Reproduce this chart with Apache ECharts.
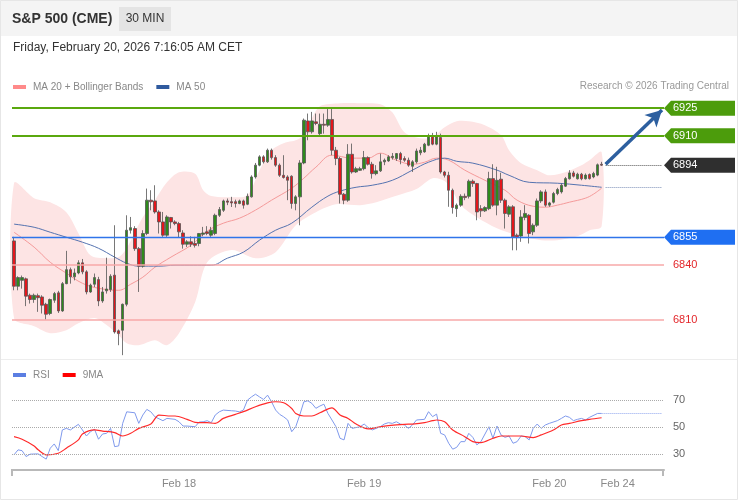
<!DOCTYPE html>
<html><head><meta charset="utf-8">
<script src="https://cdn.jsdelivr.net/npm/echarts/dist/echarts.min.js"></script>
<style>html,body{margin:0;padding:0;background:#fff}#c{width:738px;height:500px}</style>
</head><body><div id="c"></div>
<script>
// ---------------- data ----------------
const opens = [6853.0,6828.4,6831.6,6832.4,6823.5,6821.2,6823.3,6822.6,6818.6,6813.6,
6820.8,6824.8,6815.0,6829.8,6837.4,6833.5,6835.6,6841.1,6836.2,6825.3,
6829.5,6832.0,6820.4,6825.9,6826.6,6834.4,6804.2,6804.5,6818.6,6858.8,
6859.7,6848.8,6839.3,6857.0,6875.1,6874.7,6868.7,6863.3,6856.1,6865.7,
6863.3,6862.4,6857.3,6851.2,6852.5,6851.6,6851.6,6856.6,6857.9,6856.1,
6857.0,6866.9,6869.6,6874.7,6874.3,6874.3,6873.3,6874.7,6872.9,6876.9,
6887.7,6894.1,6898.6,6895.9,6902.2,6898.2,6894.1,6888.6,6887.7,6888.1,
6873.3,6876.9,6895.3,6918.1,6912.2,6917.6,6911.2,6916.3,6915.8,6918.9,
6902.2,6897.7,6878.3,6875.1,6900.0,6890.4,6891.3,6892.2,6898.2,6894.6,
6889.5,6891.0,6895.9,6896.4,6898.2,6897.7,6900.4,6897.7,6896.8,6893.5,
6895.9,6900.8,6901.3,6904.9,6909.8,6905.5,6909.1,6890.4,6888.6,6880.5,
6870.5,6872.4,6877.2,6877.2,6885.4,6884.1,6870.5,6869.3,6870.5,6886.8,
6872.4,6886.5,6875.1,6867.5,6871.5,6856.1,6855.6,6865.7,6866.9,6857.9,
6861.5,6874.7,6879.6,6872.4,6874.0,6878.7,6879.6,6882.7,6886.7,6889.9,
6886.7,6889.2,6886.7,6889.0,6887.7,6888.7,6894.6];
const closes = [6828.4,6833.1,6833.1,6823.0,6821.2,6823.5,6822.2,6818.1,6813.2,6821.2,
6824.4,6815.0,6829.8,6837.4,6833.5,6835.6,6841.1,6836.2,6825.3,6829.0,
6833.1,6820.4,6825.3,6826.9,6833.8,6803.6,6802.7,6818.6,6858.8,6860.2,
6848.8,6839.3,6857.0,6875.1,6874.2,6868.7,6863.3,6856.1,6866.0,6863.3,
6862.4,6857.9,6851.2,6852.5,6851.2,6850.6,6857.0,6857.3,6857.0,6858.8,
6866.9,6870.0,6874.7,6874.0,6873.6,6873.3,6874.7,6872.4,6877.2,6887.7,
6894.1,6898.6,6895.9,6902.2,6898.2,6894.1,6888.6,6887.4,6885.9,6873.3,
6876.9,6895.3,6918.5,6912.2,6918.1,6916.7,6916.3,6915.8,6918.9,6902.2,
6897.7,6878.3,6875.1,6900.0,6890.4,6892.2,6892.2,6898.2,6894.6,6889.5,
6891.0,6895.9,6896.8,6898.6,6898.9,6900.4,6897.1,6896.8,6894.1,6895.9,
6901.8,6902.2,6905.5,6909.8,6905.5,6909.4,6890.4,6888.6,6880.5,6871.1,
6872.4,6877.2,6876.5,6885.4,6884.1,6868.7,6869.3,6871.1,6886.8,6872.4,
6885.9,6875.1,6867.9,6871.5,6855.2,6854.8,6866.0,6867.9,6857.0,6861.5,
6874.7,6879.6,6872.4,6873.6,6878.7,6880.9,6883.2,6886.8,6889.9,6888.1,
6889.2,6886.7,6888.7,6886.8,6889.6,6894.3,6894.1];
const highs = [6855.2,6833.8,6834.2,6833.1,6824.4,6824.4,6824.4,6823.5,6819.4,6821.7,
6825.3,6825.9,6830.7,6847.6,6838.5,6838.0,6842.5,6843.2,6837.1,6829.8,
6835.3,6833.5,6828.0,6843.9,6834.9,6861.5,6804.9,6819.0,6866.9,6866.0,
6861.0,6849.7,6858.8,6881.4,6880.5,6883.2,6869.6,6868.7,6866.9,6866.0,
6864.2,6863.3,6858.8,6853.4,6855.5,6855.2,6857.3,6860.6,6861.0,6860.6,
6867.8,6871.4,6875.4,6876.0,6876.9,6875.4,6875.4,6875.4,6878.7,6888.6,
6895.3,6899.5,6899.5,6903.1,6903.1,6899.5,6895.0,6899.5,6888.6,6888.6,
6877.8,6896.8,6919.4,6922.1,6923.0,6922.1,6922.1,6922.1,6925.4,6925.4,
6904.0,6898.6,6879.0,6905.5,6905.8,6893.2,6893.2,6901.8,6898.9,6895.9,
6894.1,6900.4,6897.7,6899.5,6900.7,6900.7,6901.3,6898.9,6898.2,6896.8,
6903.1,6904.0,6906.2,6911.2,6911.6,6912.2,6911.2,6891.0,6890.5,6881.4,
6873.3,6878.3,6878.7,6886.3,6886.3,6884.5,6872.4,6871.8,6890.5,6894.6,
6893.2,6890.0,6876.0,6872.4,6872.4,6857.0,6869.7,6872.4,6867.5,6862.5,
6876.0,6880.5,6880.9,6874.2,6879.6,6881.8,6884.1,6887.7,6891.4,6891.0,
6890.0,6889.9,6889.6,6889.6,6890.5,6895.0,6895.9];
const lows = [6826.2,6826.2,6827.1,6817.6,6819.0,6819.4,6814.5,6813.6,6810.3,6812.7,
6819.4,6813.9,6814.5,6829.5,6829.8,6831.6,6834.9,6834.9,6824.0,6824.8,
6828.0,6817.6,6819.4,6824.4,6825.3,6802.7,6796.4,6791.0,6817.5,6857.0,
6847.6,6825.3,6838.5,6856.1,6869.6,6867.8,6857.0,6855.2,6855.2,6859.7,
6861.5,6854.8,6848.8,6849.7,6849.7,6849.4,6850.1,6855.5,6856.1,6855.2,
6856.1,6866.0,6868.7,6872.4,6871.4,6871.1,6872.9,6870.5,6872.4,6876.5,
6886.8,6893.5,6895.0,6895.3,6897.1,6893.2,6887.7,6886.8,6875.1,6870.5,
6869.6,6861.5,6894.6,6907.6,6911.2,6915.8,6909.4,6911.2,6914.9,6899.5,
6894.1,6873.3,6872.9,6874.2,6889.5,6889.9,6891.0,6891.3,6893.9,6886.8,
6888.6,6890.4,6894.1,6895.9,6897.1,6896.4,6894.6,6895.9,6893.2,6890.4,
6895.0,6899.5,6900.8,6904.4,6904.9,6904.9,6889.5,6887.4,6871.5,6867.8,
6866.0,6871.5,6875.1,6876.0,6882.3,6864.2,6866.0,6868.7,6869.7,6871.5,
6866.9,6873.6,6859.7,6866.0,6847.9,6847.9,6852.5,6864.2,6851.6,6856.1,
6860.6,6873.6,6871.5,6871.5,6873.3,6877.8,6878.7,6882.3,6886.3,6887.4,
6886.3,6885.9,6886.3,6886.3,6887.0,6888.1,6893.7];

// moving averages and Bollinger bands, read at [candle index, price]
const ma20 = [[0,6857.7],[5,6849.6],[9,6841.4],[13,6835.5],[17,6830.0],[21,6827.3],[26,6826.2],[29,6829.5],[32,6833.3],[35,6838.7],[39,6844.2],[44,6850.7],[48,6858.3],[52,6862.6],[56,6865.3],[60,6869.7],[64,6875.1],[69,6881.6],[72,6887.0],[75,6893.0],[79,6899.5],[84,6897.9],[88,6897.9],[91,6900.6],[95,6896.8],[99,6894.6],[102,6895.7],[105,6897.9],[108,6896.8],[112,6891.4],[117,6885.9],[122,6880.5],[125,6875.1],[129,6871.8],[132,6871.3],[135,6872.4],[138,6874.0],[142,6876.2],[144,6878.4],[146,6881.6]];
const ma50 = [[0,6862.1],[5,6860.4],[9,6857.7],[13,6855.0],[17,6852.3],[21,6849.0],[25,6844.2],[28,6840.9],[31,6839.3],[36,6839.3],[40,6839.8],[49,6839.8],[53,6843.6],[57,6846.9],[61,6853.4],[65,6858.8],[69,6862.6],[74,6871.3],[78,6877.3],[81,6880.0],[85,6882.1],[89,6883.2],[94,6885.9],[99,6891.4],[103,6895.7],[107,6897.9],[110,6896.2],[114,6895.2],[120,6891.4],[123,6888.6],[128,6884.8],[135,6884.3],[141,6883.2],[146,6882.1]];
const bbUpper = [[0,6884.3],[5,6876.2],[9,6874.0],[13,6868.6],[16,6857.2],[19,6845.2],[23,6843.6],[26,6844.2],[28,6849.0],[30,6857.7],[32,6865.9],[35,6875.1],[38,6884.8],[41,6890.3],[45,6889.5],[47,6880.5],[49,6877.3],[54,6876.7],[58,6877.8],[61,6891.4],[64,6902.2],[67,6906.0],[71,6908.7],[74,6919.6],[76,6926.1],[81,6927.7],[86,6927.7],[91,6927.2],[94,6922.8],[97,6912.0],[101,6908.7],[104,6909.3],[107,6914.7],[110,6917.9],[113,6917.9],[117,6915.8],[121,6910.4],[123,6902.2],[126,6895.2],[130,6891.4],[133,6888.6],[137,6890.3],[141,6894.1],[143,6896.8],[146,6901.1]];
const bbLower = [[0,6811.1],[5,6806.7],[9,6802.9],[13,6804.5],[16,6808.3],[20,6811.1],[23,6807.3],[26,6801.8],[28,6797.5],[31,6796.4],[35,6799.1],[38,6796.4],[41,6802.9],[45,6819.7],[48,6841.4],[54,6848.0],[60,6843.6],[65,6846.9],[70,6861.5],[75,6868.6],[80,6872.9],[86,6872.4],[90,6874.0],[95,6877.5],[100,6881.1],[104,6887.0],[107,6885.5],[109,6880.0],[111,6872.4],[115,6865.9],[120,6859.9],[125,6856.1],[131,6853.4],[135,6853.4],[140,6855.5],[143,6858.8],[146,6861.0]];

// RSI panel, [candle index, value]
const rsi = [[0,29.3],[1,33.0],[2,32.4],[3,28.0],[4,29.8],[6,30.0],[7,28.0],[8,26.1],[9,34.2],[10,37.4],[11,32.4],[12,47.8],[13,49.0],[14,47.8],[16,52.0],[17,47.8],[18,43.3],[19,46.5],[20,48.3],[21,40.9],[22,44.8],[23,45.3],[24,49.0],[25,35.4],[26,35.9],[27,52.7],[28,61.3],[30,60.6],[31,52.7],[32,58.9],[33,63.1],[34,61.3],[35,57.6],[37,54.7],[38,56.4],[40,55.7],[41,53.9],[42,50.7],[43,50.7],[45,50.2],[46,53.7],[47,53.9],[48,54.7],[49,53.2],[50,58.9],[51,61.3],[52,62.6],[54,62.1],[55,61.9],[56,61.3],[57,62.6],[58,70.0],[59,72.4],[60,74.4],[61,72.4],[62,70.5],[63,73.7],[64,68.7],[65,62.6],[66,59.4],[67,57.6],[68,55.2],[69,46.5],[70,50.2],[71,58.9],[72,68.7],[73,69.5],[74,67.6],[75,63.9],[76,65.6],[77,67.0],[78,60.1],[79,55.2],[80,50.2],[81,41.6],[82,40.4],[83,52.7],[84,49.0],[86,50.2],[87,52.2],[88,49.6],[89,47.8],[91,50.2],[92,52.2],[93,53.2],[94,52.7],[95,53.9],[96,52.2],[97,51.5],[98,49.0],[99,51.5],[100,55.2],[102,55.7],[103,61.4],[104,57.7],[105,59.6],[106,45.3],[107,44.1],[108,37.9],[109,33.5],[110,34.9],[111,39.1],[112,39.1],[113,45.3],[114,42.3],[115,36.7],[116,39.1],[118,50.2],[119,41.6],[120,50.7],[121,44.1],[122,42.3],[123,43.3],[124,37.9],[125,39.1],[126,43.3],[127,42.8],[128,40.4],[129,49.0],[130,52.2],[131,49.0],[132,51.5],[133,52.7],[135,54.7],[136,56.4],[137,58.2],[138,57.2],[139,54.7],[140,55.7],[141,56.4],[142,55.2],[143,57.2],[145,60.1],[146,60.1]];
const rsiMa9 = [[0,42.8],[2,40.9],[5,35.9],[6,33.0],[8,29.3],[11,30.5],[13,34.2],[16,40.4],[17,44.8],[20,47.8],[22,47.0],[25,45.8],[27,43.3],[29,45.3],[31,49.0],[34,52.2],[36,58.9],[39,58.2],[40,58.2],[43,55.7],[45,53.5],[48,53.2],[50,52.7],[52,56.4],[55,59.4],[57,61.4],[60,65.1],[63,68.0],[65,68.8],[67,68.0],[69,63.8],[70,60.1],[72,58.2],[74,58.2],[76,60.6],[79,64.3],[81,58.9],[83,56.4],[85,52.2],[88,48.6],[91,50.2],[93,51.0],[97,52.0],[99,52.2],[102,53.2],[104,54.7],[105,55.2],[107,53.9],[109,47.8],[112,42.8],[114,39.1],[116,38.4],[119,41.6],[121,43.3],[124,43.3],[126,43.3],[129,42.1],[131,44.1],[134,47.8],[136,51.5],[138,52.7],[141,54.7],[143,55.7],[146,56.9]];

// levels and annotations
const resistLevels = [6925, 6910];
const supportLevel = 6855;
const redLevels = [6840, 6810];
const lastPrice = 6894;
const ma50Last = 6882.1;
const rsiLast = 60.1;
const rsiLevels = [70, 50, 30];
const tagValues = [6925, 6910, 6894, 6855];
const arrowFrom = [147, 6894.6];
const arrowTo = [161, 6924];
const lastIdx = 146, endIdx = 161;

// x axis slots and date labels
const slotCount = 162;
const dateTickIdx = [41, 87, 133, 150];
const dateTickText = ['Feb 18', 'Feb 19', 'Feb 20', 'Feb 24'];
const categories = Array.from({length: slotCount}, (_, i) => String(i));

// ---------------- chart ----------------
const FONT = "'Liberation Sans', Arial, Helvetica, sans-serif";
const chart = echarts.init(document.getElementById('c'));
const candleData = opens.map((o, i) => [o, closes[i], lows[i], highs[i]]);

const option = {
  animation: false,
  textStyle: {fontFamily: FONT},
  grid: [
    {left: 12, right: 74, top: 99, height: 258, outerBoundsMode: 'none', containLabel: false},
    {left: 12, right: 74, top: 384, height: 86, outerBoundsMode: 'none', containLabel: false}
  ],
  legend: [
    {left: 8, top: 77, icon: 'rect', itemWidth: 13, itemHeight: 4, itemGap: 13,
     textStyle: {color: '#888', fontSize: 10, padding: [0, 0, 0, 2]}, selectedMode: false,
     data: ['MA 20 + Bollinger Bands', 'MA 50']},
    {left: 8, top: 365, icon: 'rect', itemWidth: 13, itemHeight: 4, itemGap: 13,
     textStyle: {color: '#888', fontSize: 10, padding: [0, 0, 0, 2]}, selectedMode: false,
     data: ['RSI', '9MA']}
  ],
  xAxis: [
    {type: 'category', gridIndex: 0, data: categories, boundaryGap: true, show: false},
    {type: 'category', gridIndex: 1, data: categories, boundaryGap: true,
     axisLine: {show: true, lineStyle: {color: '#b9b9b9', width: 2}},
     axisTick: {show: false}, splitLine: {show: false},
     axisLabel: {color: '#888', fontSize: 11, margin: 8, hideOverlap: false,
       interval: (i) => dateTickIdx.indexOf(i) >= 0,
       formatter: (v, i) => { const k = dateTickIdx.indexOf(i); return k >= 0 ? dateTickText[k] : ''; }}}
  ],
  yAxis: [
    {type: 'value', gridIndex: 0, min: 6790, max: 6930, show: false, splitLine: {show: false}},
    {type: 'value', gridIndex: 1, min: 18, max: 82, show: false, splitLine: {show: false}}
  ],
  series: [
    {
      type: 'custom', name: 'band', xAxisIndex: 0, yAxisIndex: 0, z: 1, silent: true,
      data: [[0, bbUpper[0][1]]],
      renderItem: (params, api) => {
        const pts = bbUpper.map(p => api.coord(p))
          .concat(bbLower.slice().reverse().map(p => api.coord(p)));
        return {type: 'polygon', shape: {points: pts, smooth: 0.3}, style: {fill: '#fde4e4'}};
      }
    },
    {
      type: 'line', name: 'MA 20 + Bollinger Bands', xAxisIndex: 0, yAxisIndex: 0, z: 2,
      data: ma20, smooth: 0.4, showSymbol: false, silent: true,
      itemStyle: {color: '#ff8a8a'}, lineStyle: {color: '#f59a9a', width: 1}
    },
    {
      type: 'line', name: 'MA 50', xAxisIndex: 0, yAxisIndex: 0, z: 2,
      data: ma50, smooth: 0.4, showSymbol: false, silent: true,
      itemStyle: {color: '#2f5a9e'}, lineStyle: {color: '#5573b0', width: 1}
    },
    {
      type: 'candlestick', name: 'S&P 500', xAxisIndex: 0, yAxisIndex: 0, z: 3,
      data: candleData, barWidth: 3, silent: true,
      itemStyle: {color: '#2f8a1c', color0: '#e3161b', borderColor: '#555', borderColor0: '#555', borderWidth: 0.8},
      markLine: {
        silent: true, symbol: ['none', 'none'], animation: false, z: 4,
        label: {show: false},
        data: [
          ...resistLevels.map(v => ({yAxis: v, lineStyle: {color: '#5aa80e', width: 2, type: 'solid'}, label: {show: false}})),
          {yAxis: supportLevel, lineStyle: {color: '#2f74ea', width: 1.3, type: 'solid', opacity: 1}, label: {show: false}},
          ...redLevels.map(v => ({yAxis: v, lineStyle: {color: '#f7a8a8', width: 1.5, type: 'solid'},
             label: {show: true, position: 'end', distance: 9, color: '#e3262a', fontSize: 11, formatter: String(v)}})),
          [{coord: [lastIdx + 1, lastPrice], lineStyle: {color: '#555', width: 1, type: 'dotted'}, label: {show: false}},
           {coord: [endIdx, lastPrice]}],
          [{coord: [lastIdx + 1, ma50Last], lineStyle: {color: '#7d90b8', width: 1, type: 'dotted'}, label: {show: false}},
           {coord: [endIdx, ma50Last]}],
          [{coord: arrowFrom, lineStyle: {color: '#2d5f9f', width: 3.5, type: 'solid'}, label: {show: false}},
           {coord: arrowTo, symbol: 'arrow', symbolSize: [13, 16]}]
        ]
      }
    },
    {
      type: 'line', name: 'RSI', xAxisIndex: 1, yAxisIndex: 1, z: 3,
      data: rsi, showSymbol: false, silent: true,
      itemStyle: {color: '#5b7ee2'}, lineStyle: {color: '#7f99ec', width: 1},
      markLine: {
        silent: true, symbol: ['none', 'none'], animation: false,
        data: [
          ...rsiLevels.map(v => ({yAxis: v, lineStyle: {color: '#aaa', width: 1, type: 'dotted'},
             label: {show: true, position: 'end', distance: 9, color: '#666', fontSize: 11, formatter: String(v)}})),
          [{coord: [lastIdx, rsiLast], lineStyle: {color: '#90a6ee', width: 1, type: 'dotted'}, label: {show: false}},
           {coord: [endIdx, rsiLast]}]
        ]
      }
    },
    {
      type: 'line', name: '9MA', xAxisIndex: 1, yAxisIndex: 1, z: 4,
      data: rsiMa9, smooth: 0.3, showSymbol: false, silent: true,
      itemStyle: {color: '#ff0000'}, lineStyle: {color: '#ff2a2a', width: 1.2}
    }
  ]
};
chart.setOption(option);

// ---------------- decorations ----------------
const tagColors = ['#4c9c0c', '#4c9c0c', '#2f2f2f', '#1f6ff2'];
const g = [
  {type: 'rect', shape: {x: 0, y: 0, width: 738, height: 36}, style: {fill: '#f4f4f4'}, z: 0},
  {type: 'text', x: 12, y: 19, style: {text: 'S&P 500 (CME)', font: 'bold 14px ' + FONT, fill: '#333', verticalAlign: 'middle'}},
  {type: 'rect', shape: {x: 119, y: 7, width: 52, height: 24}, style: {fill: '#e4e4e4'}},
  {type: 'text', x: 145, y: 19, style: {text: '30 MIN', font: '12px ' + FONT, fill: '#333', align: 'center', verticalAlign: 'middle'}},
  {type: 'text', x: 13, y: 48, style: {text: 'Friday, February 20, 2026 7:16:05 AM CET', font: '12px ' + FONT, fill: '#333', verticalAlign: 'middle'}},
  {type: 'text', x: 729, y: 86, style: {text: 'Research \u00a9 2026 Trading Central', font: '10px ' + FONT, fill: '#999', align: 'right', verticalAlign: 'middle'}},
  {type: 'line', shape: {x1: 0, y1: 359.5, x2: 738, y2: 359.5}, style: {stroke: '#ededed', lineWidth: 1}},
  {type: 'line', shape: {x1: 12, y1: 469, x2: 12, y2: 476}, style: {stroke: '#b9b9b9', lineWidth: 2}},
  {type: 'line', shape: {x1: 663, y1: 469, x2: 663, y2: 476}, style: {stroke: '#b9b9b9', lineWidth: 2}},
  {type: 'rect', shape: {x: 0.5, y: 0.5, width: 737, height: 499}, style: {fill: 'none', stroke: '#e6e6e6', lineWidth: 1}, z: 20}
];
tagValues.forEach((v, k) => {
  const y = chart.convertToPixel({yAxisIndex: 0}, v);
  g.push({type: 'polygon', z: 10,
    shape: {points: [[664, y], [671, y - 7.5], [735, y - 7.5], [735, y + 7.5], [671, y + 7.5]]},
    style: {fill: tagColors[k]}});
  g.push({type: 'text', z: 11, x: 673, y: y,
    style: {text: String(v), font: '11px ' + FONT, fill: '#fff', verticalAlign: 'middle'}});
});
chart.setOption({graphic: g});
</script>
</body></html>
